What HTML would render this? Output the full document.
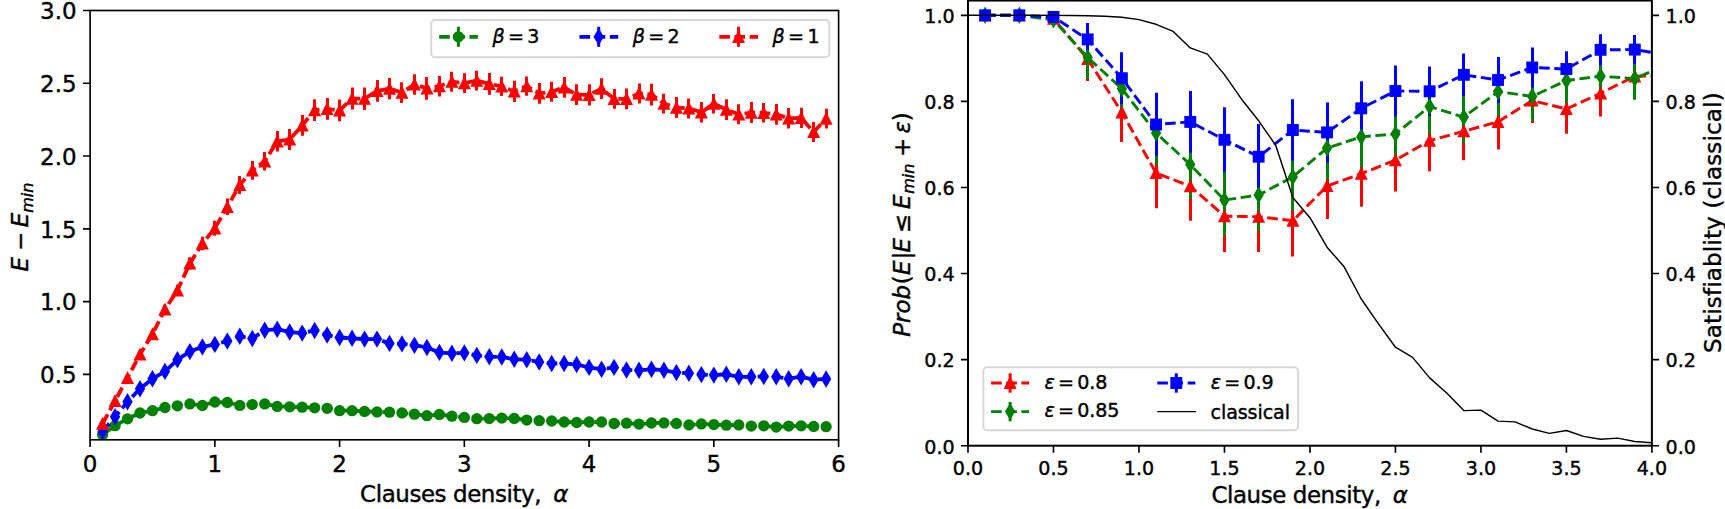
<!DOCTYPE html><html><head><meta charset="utf-8"><title>plot</title><style>html,body{margin:0;padding:0;background:#fff}svg{display:block}text{font-family:"DejaVu Sans","Liberation Sans",sans-serif;fill:#000;stroke:#000;stroke-width:0.4px}.i{font-style:italic}</style></head><body>
<svg width="1725" height="509" viewBox="0 0 1725 509">
<rect width="1725" height="509" fill="#fff"/>
<defs>
<clipPath id="cl"><rect x="90.1" y="10.5" width="748.5" height="429.3"/></clipPath>
<clipPath id="cr"><rect x="968.0" y="0.55" width="683.9000000000001" height="445.15"/></clipPath>
<circle id="mo" r="5.65"/>
<path id="md" d="M0,-8.7L5.15,0L0,8.7L-5.15,0Z"/>
<path id="mt" d="M0,-6.9L6.5,6.1L-6.5,6.1Z"/>
<rect id="ms" x="-5.95" y="-5.95" width="11.9" height="11.9"/>
</defs>
<g clip-path="url(#cl)">
<polyline points="102.57,434.80 115.05,425.65 127.52,418.80 140.00,413.00 152.47,410.70 164.95,407.50 177.43,405.80 189.90,403.90 202.38,405.40 214.85,402.00 227.32,402.50 239.80,405.40 252.27,404.60 264.75,403.90 277.23,406.40 289.70,406.80 302.17,407.20 314.65,407.80 327.12,408.30 339.60,410.70 352.07,410.70 364.55,411.40 377.02,411.90 389.50,412.20 401.98,412.90 414.45,414.20 426.92,415.70 439.40,414.50 451.88,416.20 464.35,417.40 476.82,418.70 489.30,418.60 501.77,418.10 514.25,418.40 526.73,420.10 539.20,420.70 551.67,421.00 564.15,422.00 576.62,422.50 589.10,422.00 601.57,422.00 614.05,423.50 626.52,423.20 639.00,424.10 651.48,423.00 663.95,422.90 676.42,423.50 688.90,424.90 701.38,423.90 713.85,424.60 726.33,425.20 738.80,424.90 751.27,426.10 763.75,425.80 776.23,427.10 788.70,426.10 801.17,425.80 813.65,426.40 826.12,426.70" fill="none" stroke="#008000" stroke-width="3.8" stroke-dasharray="10.6 4.58"/>
<g fill="#008000"><use href="#mo" x="102.57" y="434.80"/><use href="#mo" x="115.05" y="425.65"/><use href="#mo" x="127.52" y="418.80"/><use href="#mo" x="140.00" y="413.00"/><use href="#mo" x="152.47" y="410.70"/><use href="#mo" x="164.95" y="407.50"/><use href="#mo" x="177.43" y="405.80"/><use href="#mo" x="189.90" y="403.90"/><use href="#mo" x="202.38" y="405.40"/><use href="#mo" x="214.85" y="402.00"/><use href="#mo" x="227.32" y="402.50"/><use href="#mo" x="239.80" y="405.40"/><use href="#mo" x="252.27" y="404.60"/><use href="#mo" x="264.75" y="403.90"/><use href="#mo" x="277.23" y="406.40"/><use href="#mo" x="289.70" y="406.80"/><use href="#mo" x="302.17" y="407.20"/><use href="#mo" x="314.65" y="407.80"/><use href="#mo" x="327.12" y="408.30"/><use href="#mo" x="339.60" y="410.70"/><use href="#mo" x="352.07" y="410.70"/><use href="#mo" x="364.55" y="411.40"/><use href="#mo" x="377.02" y="411.90"/><use href="#mo" x="389.50" y="412.20"/><use href="#mo" x="401.98" y="412.90"/><use href="#mo" x="414.45" y="414.20"/><use href="#mo" x="426.92" y="415.70"/><use href="#mo" x="439.40" y="414.50"/><use href="#mo" x="451.88" y="416.20"/><use href="#mo" x="464.35" y="417.40"/><use href="#mo" x="476.82" y="418.70"/><use href="#mo" x="489.30" y="418.60"/><use href="#mo" x="501.77" y="418.10"/><use href="#mo" x="514.25" y="418.40"/><use href="#mo" x="526.73" y="420.10"/><use href="#mo" x="539.20" y="420.70"/><use href="#mo" x="551.67" y="421.00"/><use href="#mo" x="564.15" y="422.00"/><use href="#mo" x="576.62" y="422.50"/><use href="#mo" x="589.10" y="422.00"/><use href="#mo" x="601.57" y="422.00"/><use href="#mo" x="614.05" y="423.50"/><use href="#mo" x="626.52" y="423.20"/><use href="#mo" x="639.00" y="424.10"/><use href="#mo" x="651.48" y="423.00"/><use href="#mo" x="663.95" y="422.90"/><use href="#mo" x="676.42" y="423.50"/><use href="#mo" x="688.90" y="424.90"/><use href="#mo" x="701.38" y="423.90"/><use href="#mo" x="713.85" y="424.60"/><use href="#mo" x="726.33" y="425.20"/><use href="#mo" x="738.80" y="424.90"/><use href="#mo" x="751.27" y="426.10"/><use href="#mo" x="763.75" y="425.80"/><use href="#mo" x="776.23" y="427.10"/><use href="#mo" x="788.70" y="426.10"/><use href="#mo" x="801.17" y="425.80"/><use href="#mo" x="813.65" y="426.40"/><use href="#mo" x="826.12" y="426.70"/></g>
<polyline points="102.57,431.50 115.05,416.80 127.52,401.80 140.00,388.80 152.47,378.80 164.95,371.40 177.43,359.70 189.90,351.60 202.38,346.90 214.85,344.40 227.32,341.10 239.80,336.30 252.27,338.50 264.75,330.20 277.23,329.30 289.70,332.00 302.17,333.10 314.65,330.50 327.12,335.00 339.60,337.50 352.07,338.30 364.55,339.10 377.02,339.10 389.50,343.40 401.98,343.90 414.45,345.20 426.92,347.50 439.40,352.40 451.88,353.30 464.35,352.90 476.82,355.40 489.30,356.80 501.77,357.00 514.25,359.30 526.73,359.70 539.20,362.00 551.67,363.50 564.15,363.50 576.62,364.50 589.10,367.40 601.57,369.20 614.05,367.40 626.52,370.00 639.00,370.30 651.48,369.20 663.95,370.30 676.42,372.60 688.90,373.20 701.38,374.60 713.85,375.10 726.33,374.30 738.80,376.80 751.27,376.80 763.75,376.50 776.23,376.80 788.70,378.70 801.17,376.80 813.65,379.70 826.12,379.00" fill="none" stroke="#0000ff" stroke-width="3.8" stroke-dasharray="10.6 4.58"/>
<g fill="#0000ff"><use href="#md" x="102.57" y="431.50"/><use href="#md" x="115.05" y="416.80"/><use href="#md" x="127.52" y="401.80"/><use href="#md" x="140.00" y="388.80"/><use href="#md" x="152.47" y="378.80"/><use href="#md" x="164.95" y="371.40"/><use href="#md" x="177.43" y="359.70"/><use href="#md" x="189.90" y="351.60"/><use href="#md" x="202.38" y="346.90"/><use href="#md" x="214.85" y="344.40"/><use href="#md" x="227.32" y="341.10"/><use href="#md" x="239.80" y="336.30"/><use href="#md" x="252.27" y="338.50"/><use href="#md" x="264.75" y="330.20"/><use href="#md" x="277.23" y="329.30"/><use href="#md" x="289.70" y="332.00"/><use href="#md" x="302.17" y="333.10"/><use href="#md" x="314.65" y="330.50"/><use href="#md" x="327.12" y="335.00"/><use href="#md" x="339.60" y="337.50"/><use href="#md" x="352.07" y="338.30"/><use href="#md" x="364.55" y="339.10"/><use href="#md" x="377.02" y="339.10"/><use href="#md" x="389.50" y="343.40"/><use href="#md" x="401.98" y="343.90"/><use href="#md" x="414.45" y="345.20"/><use href="#md" x="426.92" y="347.50"/><use href="#md" x="439.40" y="352.40"/><use href="#md" x="451.88" y="353.30"/><use href="#md" x="464.35" y="352.90"/><use href="#md" x="476.82" y="355.40"/><use href="#md" x="489.30" y="356.80"/><use href="#md" x="501.77" y="357.00"/><use href="#md" x="514.25" y="359.30"/><use href="#md" x="526.73" y="359.70"/><use href="#md" x="539.20" y="362.00"/><use href="#md" x="551.67" y="363.50"/><use href="#md" x="564.15" y="363.50"/><use href="#md" x="576.62" y="364.50"/><use href="#md" x="589.10" y="367.40"/><use href="#md" x="601.57" y="369.20"/><use href="#md" x="614.05" y="367.40"/><use href="#md" x="626.52" y="370.00"/><use href="#md" x="639.00" y="370.30"/><use href="#md" x="651.48" y="369.20"/><use href="#md" x="663.95" y="370.30"/><use href="#md" x="676.42" y="372.60"/><use href="#md" x="688.90" y="373.20"/><use href="#md" x="701.38" y="374.60"/><use href="#md" x="713.85" y="375.10"/><use href="#md" x="726.33" y="374.30"/><use href="#md" x="738.80" y="376.80"/><use href="#md" x="751.27" y="376.80"/><use href="#md" x="763.75" y="376.50"/><use href="#md" x="776.23" y="376.80"/><use href="#md" x="788.70" y="378.70"/><use href="#md" x="801.17" y="376.80"/><use href="#md" x="813.65" y="379.70"/><use href="#md" x="826.12" y="379.00"/></g>
<polyline points="102.57,423.60 115.05,400.90 127.52,377.80 140.00,354.40 152.47,334.10 164.95,309.30 177.43,290.30 189.90,263.40 202.38,243.50 214.85,228.30 227.32,206.80 239.80,184.90 252.27,170.30 264.75,161.30 277.23,141.30 289.70,139.50 302.17,125.40 314.65,110.10 327.12,108.90 339.60,110.40 352.07,98.60 364.55,98.70 377.02,90.90 389.50,88.60 401.98,92.60 414.45,84.50 426.92,88.40 439.40,86.20 451.88,81.70 464.35,83.20 476.82,80.60 489.30,83.90 501.77,86.40 514.25,91.40 526.73,86.10 539.20,93.40 551.67,91.80 564.15,87.40 576.62,94.60 589.10,94.80 601.57,88.70 614.05,98.80 626.52,98.90 639.00,93.40 651.48,94.60 663.95,103.60 676.42,107.60 688.90,108.40 701.38,112.30 713.85,103.70 726.33,109.60 738.80,114.30 751.27,112.60 763.75,112.80 776.23,114.40 788.70,118.30 801.17,117.90 813.65,132.00 826.12,118.60" fill="none" stroke="#ff0000" stroke-width="3.8" stroke-dasharray="10.6 4.58"/>
<path d="M102.5,422.85V424.35M115.5,399.40V402.40M127.5,375.55V380.05M140.5,351.40V357.40M152.5,330.35V337.85M164.5,304.80V313.80M177.5,285.05V295.55M189.5,257.40V269.40M202.5,236.75V250.25M214.5,220.80V235.80M227.5,198.55V215.05M239.5,175.90V193.90M252.5,160.90V179.70M264.5,152.10V170.50M277.5,131.10V151.50M289.5,129.00V150.00M302.5,115.10V135.70M314.5,99.25V120.95M327.5,98.05V119.75M339.5,99.55V121.25M352.5,87.60V109.60M364.5,87.40V110.00M377.5,80.05V101.75M389.5,78.00V99.20M401.5,82.20V103.00M414.5,74.20V94.80M426.5,77.10V99.70M439.5,75.90V96.50M451.5,71.70V91.70M464.5,73.35V93.05M476.5,70.80V90.40M489.5,73.10V94.70M501.5,76.80V96.00M514.5,80.80V102.00M526.5,76.50V95.70M539.5,83.00V103.80M551.5,81.80V101.80M564.5,77.10V97.70M576.5,84.30V104.90M589.5,84.20V105.40M601.5,78.30V99.10M614.5,88.90V108.70M626.5,88.60V109.20M639.5,83.40V103.40M651.5,83.80V105.40M663.5,93.80V113.40M676.5,97.10V118.10M688.5,98.40V118.40M701.5,102.00V122.60M713.5,93.90V113.50M726.5,99.20V120.00M738.5,104.30V124.30M751.5,102.10V123.10M763.5,103.00V122.60M776.5,104.10V124.70M788.5,108.10V128.50M801.5,107.80V128.00M813.5,122.10V141.90M826.5,108.70V128.50" stroke="#ff0000" stroke-width="3.0" fill="none"/>
<g fill="#ff0000"><use href="#mt" x="102.57" y="423.60"/><use href="#mt" x="115.05" y="400.90"/><use href="#mt" x="127.52" y="377.80"/><use href="#mt" x="140.00" y="354.40"/><use href="#mt" x="152.47" y="334.10"/><use href="#mt" x="164.95" y="309.30"/><use href="#mt" x="177.43" y="290.30"/><use href="#mt" x="189.90" y="263.40"/><use href="#mt" x="202.38" y="243.50"/><use href="#mt" x="214.85" y="228.30"/><use href="#mt" x="227.32" y="206.80"/><use href="#mt" x="239.80" y="184.90"/><use href="#mt" x="252.27" y="170.30"/><use href="#mt" x="264.75" y="161.30"/><use href="#mt" x="277.23" y="141.30"/><use href="#mt" x="289.70" y="139.50"/><use href="#mt" x="302.17" y="125.40"/><use href="#mt" x="314.65" y="110.10"/><use href="#mt" x="327.12" y="108.90"/><use href="#mt" x="339.60" y="110.40"/><use href="#mt" x="352.07" y="98.60"/><use href="#mt" x="364.55" y="98.70"/><use href="#mt" x="377.02" y="90.90"/><use href="#mt" x="389.50" y="88.60"/><use href="#mt" x="401.98" y="92.60"/><use href="#mt" x="414.45" y="84.50"/><use href="#mt" x="426.92" y="88.40"/><use href="#mt" x="439.40" y="86.20"/><use href="#mt" x="451.88" y="81.70"/><use href="#mt" x="464.35" y="83.20"/><use href="#mt" x="476.82" y="80.60"/><use href="#mt" x="489.30" y="83.90"/><use href="#mt" x="501.77" y="86.40"/><use href="#mt" x="514.25" y="91.40"/><use href="#mt" x="526.73" y="86.10"/><use href="#mt" x="539.20" y="93.40"/><use href="#mt" x="551.67" y="91.80"/><use href="#mt" x="564.15" y="87.40"/><use href="#mt" x="576.62" y="94.60"/><use href="#mt" x="589.10" y="94.80"/><use href="#mt" x="601.57" y="88.70"/><use href="#mt" x="614.05" y="98.80"/><use href="#mt" x="626.52" y="98.90"/><use href="#mt" x="639.00" y="93.40"/><use href="#mt" x="651.48" y="94.60"/><use href="#mt" x="663.95" y="103.60"/><use href="#mt" x="676.42" y="107.60"/><use href="#mt" x="688.90" y="108.40"/><use href="#mt" x="701.38" y="112.30"/><use href="#mt" x="713.85" y="103.70"/><use href="#mt" x="726.33" y="109.60"/><use href="#mt" x="738.80" y="114.30"/><use href="#mt" x="751.27" y="112.60"/><use href="#mt" x="763.75" y="112.80"/><use href="#mt" x="776.23" y="114.40"/><use href="#mt" x="788.70" y="118.30"/><use href="#mt" x="801.17" y="117.90"/><use href="#mt" x="813.65" y="132.00"/><use href="#mt" x="826.12" y="118.60"/></g>
</g>
<rect x="90.1" y="10.5" width="748.5" height="429.3" fill="none" stroke="#000" stroke-width="1.65"/>
<path d="M90.10,439.8v7.15M214.85,439.8v7.15M339.60,439.8v7.15M464.35,439.8v7.15M589.10,439.8v7.15M713.85,439.8v7.15M838.60,439.8v7.15M90.1,374.35h-7.15M90.1,301.58h-7.15M90.1,228.81h-7.15M90.1,156.04h-7.15M90.1,83.27h-7.15M90.1,10.50h-7.15" stroke="#000" stroke-width="1.65" fill="none"/>
<g font-size="22.95px" text-anchor="middle">
<text x="90.10" y="471.7">0</text>
<text x="214.85" y="471.7">1</text>
<text x="339.60" y="471.7">2</text>
<text x="464.35" y="471.7">3</text>
<text x="589.10" y="471.7">4</text>
<text x="713.85" y="471.7">5</text>
<text x="838.60" y="471.7">6</text>
</g>
<g font-size="22.95px" text-anchor="end">
<text x="76.6" y="383.25">0.5</text>
<text x="76.6" y="310.48">1.0</text>
<text x="76.6" y="237.71">1.5</text>
<text x="76.6" y="164.94">2.0</text>
<text x="76.6" y="92.17">2.5</text>
<text x="76.6" y="19.40">3.0</text>
</g>
<text x="360.1" y="502.0" font-size="22.95px" letter-spacing="-0.42">Clauses density,</text>
<text x="553.2" y="502.0" font-size="22.95px" class="i">α</text>
<g transform="translate(28.3,0) rotate(-90)" font-size="22.95px">
<text x="-271.60" class="i">E</text>
<text x="-251.00">−</text>
<text x="-227.20" class="i">E</text>
<text x="-212.85" y="4.2" font-size="16.06px" class="i">min</text>
</g>
<rect x="431.2" y="20" width="398.1" height="37.3" rx="3.9" ry="3.9" fill="#fff" fill-opacity="0.8" stroke="#ccc" stroke-opacity="0.8" stroke-width="1.94"/>
<path d="M439.2,36.8h38.7" stroke="#008000" stroke-width="3.8" stroke-dasharray="10.6 4.58" fill="none"/>
<path d="M458.4,26.799999999999997v20" stroke="#008000" stroke-width="3.0" fill="none"/>
<use href="#mo" x="458.4" y="36.8" fill="#008000"/>
<text transform="translate(492.4,43.0) scale(1,1.05)" font-size="19.1px"><tspan class="i">β</tspan><tspan dx="3.3">=</tspan><tspan dx="3.4">3</tspan></text>
<path d="M579.5,36.8h38.7" stroke="#0000ff" stroke-width="3.8" stroke-dasharray="10.6 4.58" fill="none"/>
<path d="M598.7,26.799999999999997v20" stroke="#0000ff" stroke-width="3.0" fill="none"/>
<use href="#md" x="598.7" y="36.8" fill="#0000ff"/>
<text transform="translate(632.7,43.0) scale(1,1.05)" font-size="19.1px"><tspan class="i">β</tspan><tspan dx="3.3">=</tspan><tspan dx="3.4">2</tspan></text>
<path d="M719.3,36.8h38.7" stroke="#ff0000" stroke-width="3.8" stroke-dasharray="10.6 4.58" fill="none"/>
<path d="M738.5,26.799999999999997v20" stroke="#ff0000" stroke-width="3.0" fill="none"/>
<use href="#mt" x="738.5" y="36.8" fill="#ff0000"/>
<text transform="translate(772.5,43.0) scale(1,1.05)" font-size="19.1px"><tspan class="i">β</tspan><tspan dx="3.3">=</tspan><tspan dx="3.4">1</tspan></text>
<g clip-path="url(#cr)">
<path d="M985.5,12.30V18.30M1019.5,12.30V18.30M1053.5,14.60V22.60M1087.5,37.10V80.90M1121.5,82.70V142.10M1156.5,137.70V208.30M1190.5,151.70V220.70M1224.5,180.40V252.00M1258.5,181.40V252.00M1292.5,184.90V256.50M1327.5,153.00V219.00M1361.5,140.70V206.70M1395.5,128.80V191.60M1429.5,110.10V171.30M1463.5,102.20V160.20M1498.5,94.00V149.60M1532.5,78.00V123.00M1566.5,84.20V133.80M1600.5,70.00V116.60M1634.5,56.30V96.30M1668.5,55.60V95.60" stroke="#ff0000" stroke-width="3.0" fill="none"/>
<path d="M985.5,12.30V18.30M1019.5,12.30V18.30M1053.5,15.90V23.90M1087.5,36.10V78.90M1121.5,60.70V116.70M1156.5,101.90V163.90M1190.5,130.60V198.60M1224.5,164.40V235.80M1258.5,159.30V230.70M1292.5,142.70V211.10M1327.5,116.90V179.30M1361.5,106.30V167.50M1395.5,105.90V161.90M1429.5,79.50V133.50M1463.5,91.10V143.10M1498.5,67.10V116.10M1532.5,71.80V121.00M1566.5,58.00V103.00M1600.5,55.20V97.20M1634.5,57.40V99.80M1668.5,43.70V83.70" stroke="#008000" stroke-width="3.0" fill="none"/>
<path d="M985.5,12.30V18.30M1019.5,12.30V18.30M1053.5,12.90V20.90M1087.5,22.90V55.90M1121.5,52.20V104.20M1156.5,92.80V156.20M1190.5,91.10V152.70M1224.5,107.30V172.30M1258.5,123.90V189.50M1292.5,99.30V160.70M1327.5,102.40V162.40M1361.5,81.30V135.30M1395.5,65.50V116.50M1429.5,66.50V116.10M1463.5,53.60V96.00M1498.5,57.10V102.90M1532.5,47.50V87.50M1566.5,51.30V86.70M1600.5,34.20V65.40M1634.5,34.90V64.30M1668.5,41.40V69.40" stroke="#0000ff" stroke-width="3.0" fill="none"/>
<polyline points="985.10,15.30 1019.29,15.30 1053.49,18.60 1087.68,59.00 1121.88,112.40 1156.07,173.00 1190.27,186.20 1224.46,216.20 1258.66,216.70 1292.85,220.70 1327.05,186.00 1361.24,173.70 1395.44,160.20 1429.63,140.70 1463.83,131.20 1498.02,121.80 1532.22,100.50 1566.41,109.00 1600.61,93.30 1634.80,76.30 1669.00,75.60" fill="none" stroke="#ff0000" stroke-width="2.9" stroke-dasharray="10.6 4.58"/>
<g fill="#ff0000"><use href="#mt" x="985.10" y="15.30"/><use href="#mt" x="1019.29" y="15.30"/><use href="#mt" x="1053.49" y="18.60"/><use href="#mt" x="1087.68" y="59.00"/><use href="#mt" x="1121.88" y="112.40"/><use href="#mt" x="1156.07" y="173.00"/><use href="#mt" x="1190.27" y="186.20"/><use href="#mt" x="1224.46" y="216.20"/><use href="#mt" x="1258.66" y="216.70"/><use href="#mt" x="1292.85" y="220.70"/><use href="#mt" x="1327.05" y="186.00"/><use href="#mt" x="1361.24" y="173.70"/><use href="#mt" x="1395.44" y="160.20"/><use href="#mt" x="1429.63" y="140.70"/><use href="#mt" x="1463.83" y="131.20"/><use href="#mt" x="1498.02" y="121.80"/><use href="#mt" x="1532.22" y="100.50"/><use href="#mt" x="1566.41" y="109.00"/><use href="#mt" x="1600.61" y="93.30"/><use href="#mt" x="1634.80" y="76.30"/><use href="#mt" x="1669.00" y="75.60"/></g>
<polyline points="985.10,15.30 1019.29,15.30 1053.49,19.90 1087.68,57.50 1121.88,88.70 1156.07,132.90 1190.27,164.60 1224.46,200.10 1258.66,195.00 1292.85,176.90 1327.05,148.10 1361.24,136.90 1395.44,133.90 1429.63,106.50 1463.83,117.10 1498.02,91.60 1532.22,96.40 1566.41,80.50 1600.61,76.20 1634.80,78.60 1669.00,63.70" fill="none" stroke="#008000" stroke-width="2.9" stroke-dasharray="10.6 4.58"/>
<g fill="#008000"><use href="#md" x="985.10" y="15.30"/><use href="#md" x="1019.29" y="15.30"/><use href="#md" x="1053.49" y="19.90"/><use href="#md" x="1087.68" y="57.50"/><use href="#md" x="1121.88" y="88.70"/><use href="#md" x="1156.07" y="132.90"/><use href="#md" x="1190.27" y="164.60"/><use href="#md" x="1224.46" y="200.10"/><use href="#md" x="1258.66" y="195.00"/><use href="#md" x="1292.85" y="176.90"/><use href="#md" x="1327.05" y="148.10"/><use href="#md" x="1361.24" y="136.90"/><use href="#md" x="1395.44" y="133.90"/><use href="#md" x="1429.63" y="106.50"/><use href="#md" x="1463.83" y="117.10"/><use href="#md" x="1498.02" y="91.60"/><use href="#md" x="1532.22" y="96.40"/><use href="#md" x="1566.41" y="80.50"/><use href="#md" x="1600.61" y="76.20"/><use href="#md" x="1634.80" y="78.60"/><use href="#md" x="1669.00" y="63.70"/></g>
<polyline points="985.10,15.30 1019.29,15.30 1053.49,16.90 1087.68,39.40 1121.88,78.20 1156.07,124.50 1190.27,121.90 1224.46,139.80 1258.66,156.70 1292.85,130.00 1327.05,132.40 1361.24,108.30 1395.44,91.00 1429.63,91.30 1463.83,74.80 1498.02,80.00 1532.22,67.50 1566.41,69.00 1600.61,49.80 1634.80,49.60 1669.00,55.40" fill="none" stroke="#0000ff" stroke-width="2.9" stroke-dasharray="10.6 4.58"/>
<g fill="#0000ff"><use href="#ms" x="985.10" y="15.30"/><use href="#ms" x="1019.29" y="15.30"/><use href="#ms" x="1053.49" y="16.90"/><use href="#ms" x="1087.68" y="39.40"/><use href="#ms" x="1121.88" y="78.20"/><use href="#ms" x="1156.07" y="124.50"/><use href="#ms" x="1190.27" y="121.90"/><use href="#ms" x="1224.46" y="139.80"/><use href="#ms" x="1258.66" y="156.70"/><use href="#ms" x="1292.85" y="130.00"/><use href="#ms" x="1327.05" y="132.40"/><use href="#ms" x="1361.24" y="108.30"/><use href="#ms" x="1395.44" y="91.00"/><use href="#ms" x="1429.63" y="91.30"/><use href="#ms" x="1463.83" y="74.80"/><use href="#ms" x="1498.02" y="80.00"/><use href="#ms" x="1532.22" y="67.50"/><use href="#ms" x="1566.41" y="69.00"/><use href="#ms" x="1600.61" y="49.80"/><use href="#ms" x="1634.80" y="49.60"/><use href="#ms" x="1669.00" y="55.40"/></g>
<polyline points="968.00,15.30 985.10,15.30 1002.20,15.30 1019.29,15.30 1036.39,15.30 1053.49,15.40 1070.59,15.50 1087.68,15.80 1104.78,16.30 1121.88,17.30 1138.97,19.60 1156.07,24.30 1173.17,31.40 1190.27,47.90 1207.37,54.10 1224.46,74.60 1241.56,99.20 1258.66,120.80 1275.76,145.40 1292.85,197.50 1309.95,217.70 1327.05,247.20 1344.14,266.80 1361.24,299.00 1378.34,323.60 1395.44,347.20 1412.54,357.40 1429.63,377.90 1446.73,393.00 1463.83,410.60 1480.92,410.10 1498.02,421.10 1515.12,421.90 1532.22,429.00 1549.32,433.40 1566.41,430.50 1583.51,436.40 1600.61,439.20 1617.70,438.10 1634.80,441.50 1651.90,442.80" fill="none" stroke="#000" stroke-width="1.45" stroke-linejoin="round"/>
</g>
<rect x="968.0" y="0.55" width="683.9000000000001" height="445.15" fill="none" stroke="#000" stroke-width="2.0"/>
<path d="M968.00,445.7v7.15M1053.49,445.7v7.15M1138.97,445.7v7.15M1224.46,445.7v7.15M1309.95,445.7v7.15M1395.44,445.7v7.15M1480.92,445.7v7.15M1566.41,445.7v7.15M1651.90,445.7v7.15M968.0,445.70h-7.15M1651.9,445.70h7.15M968.0,359.62h-7.15M1651.9,359.62h7.15M968.0,273.54h-7.15M1651.9,273.54h7.15M968.0,187.46h-7.15M1651.9,187.46h7.15M968.0,101.38h-7.15M1651.9,101.38h7.15M968.0,15.30h-7.15M1651.9,15.30h7.15" stroke="#000" stroke-width="1.65" fill="none"/>
<g font-size="19.1px" text-anchor="middle">
<text transform="translate(968.00,474.65) scale(1,1.05)">0.0</text>
<text transform="translate(1053.49,474.65) scale(1,1.05)">0.5</text>
<text transform="translate(1138.97,474.65) scale(1,1.05)">1.0</text>
<text transform="translate(1224.46,474.65) scale(1,1.05)">1.5</text>
<text transform="translate(1309.95,474.65) scale(1,1.05)">2.0</text>
<text transform="translate(1395.44,474.65) scale(1,1.05)">2.5</text>
<text transform="translate(1480.92,474.65) scale(1,1.05)">3.0</text>
<text transform="translate(1566.41,474.65) scale(1,1.05)">3.5</text>
<text transform="translate(1651.90,474.65) scale(1,1.05)">4.0</text>
</g>
<g font-size="19.1px" text-anchor="end">
<text transform="translate(954.6,453.50) scale(1,1.05)">0.0</text>
<text transform="translate(954.6,367.42) scale(1,1.05)">0.2</text>
<text transform="translate(954.6,281.34) scale(1,1.05)">0.4</text>
<text transform="translate(954.6,195.26) scale(1,1.05)">0.6</text>
<text transform="translate(954.6,109.18) scale(1,1.05)">0.8</text>
<text transform="translate(954.6,23.10) scale(1,1.05)">1.0</text>
</g>
<g font-size="19.1px">
<text transform="translate(1665.6,453.50) scale(1,1.05)">0.0</text>
<text transform="translate(1665.6,367.42) scale(1,1.05)">0.2</text>
<text transform="translate(1665.6,281.34) scale(1,1.05)">0.4</text>
<text transform="translate(1665.6,195.26) scale(1,1.05)">0.6</text>
<text transform="translate(1665.6,109.18) scale(1,1.05)">0.8</text>
<text transform="translate(1665.6,23.10) scale(1,1.05)">1.0</text>
</g>
<text x="1211.4" y="503.4" font-size="22.95px" letter-spacing="-0.42">Clause density,</text>
<text x="1392.8" y="503.4" font-size="22.95px" class="i">α</text>
<g transform="translate(909.8,0) rotate(-90)" font-size="22.95px">
<text x="-336.80" class="i">Prob</text>
<text x="-284.35">(</text>
<text x="-275.00" class="i">E</text>
<text x="-259.60">|</text>
<text x="-252.40" class="i">E</text>
<text x="-233.35">≤</text>
<text x="-209.10" class="i">E</text>
<text x="-193.85" y="4.2" font-size="16.06px" class="i">min</text>
<text x="-156.95">+</text>
<text x="-133.50" class="i">ε</text>
<text x="-121.25">)</text>
</g>
<text transform="translate(1720.6,222.6) rotate(-90)" font-size="22.95px" text-anchor="middle" letter-spacing="0.2">Satisfiablity (classical)</text>
<rect x="983.4" y="367.2" width="314.7" height="63.1" rx="3.9" ry="3.9" fill="#fff" fill-opacity="0.8" stroke="#ccc" stroke-opacity="0.8" stroke-width="1.94"/>
<path d="M991.1,383.0h38.0" stroke="#ff0000" stroke-width="2.9" stroke-dasharray="10.6 4.58" fill="none"/>
<path d="M1010.1,373.3v19.4" stroke="#ff0000" stroke-width="3.0" fill="none"/>
<use href="#mt" x="1010.1" y="383.0" fill="#ff0000"/>
<text transform="translate(1044.5,388.6) scale(1,1.05)" font-size="19.1px"><tspan class="i">ε</tspan><tspan dx="3.1">=</tspan><tspan dx="3.3" letter-spacing="-0.1">0.8</tspan></text>
<path d="M991.1,411.6h38.0" stroke="#008000" stroke-width="2.9" stroke-dasharray="10.6 4.58" fill="none"/>
<path d="M1010.1,401.90000000000003v19.4" stroke="#008000" stroke-width="3.0" fill="none"/>
<use href="#md" x="1010.1" y="411.6" fill="#008000"/>
<text transform="translate(1044.5,417.2) scale(1,1.05)" font-size="19.1px"><tspan class="i">ε</tspan><tspan dx="3.1">=</tspan><tspan dx="3.3" letter-spacing="-0.1">0.85</tspan></text>
<path d="M1157.3,383.0h38.0" stroke="#0000ff" stroke-width="2.9" stroke-dasharray="10.6 4.58" fill="none"/>
<path d="M1176.3,373.3v19.4" stroke="#0000ff" stroke-width="3.0" fill="none"/>
<use href="#ms" x="1176.3" y="383.0" fill="#0000ff"/>
<text transform="translate(1210.7,388.6) scale(1,1.05)" font-size="19.1px"><tspan class="i">ε</tspan><tspan dx="3.1">=</tspan><tspan dx="3.3" letter-spacing="-0.1">0.9</tspan></text>
<path d="M1157.2,411.6h38.9" stroke="#000" stroke-width="1.45" fill="none"/>
<text transform="translate(1210.6,418.6) scale(1,1.05)" font-size="19.1px" letter-spacing="-0.11">classical</text>
</svg></body></html>
